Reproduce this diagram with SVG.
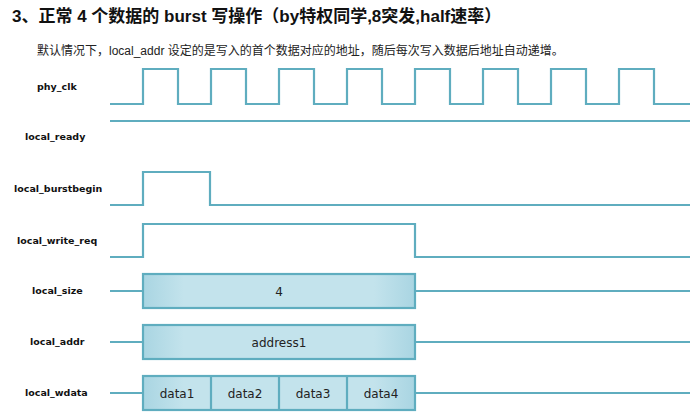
<svg xmlns="http://www.w3.org/2000/svg" width="698" height="418" viewBox="0 0 698 418">
<defs>
<linearGradient id="g" x1="0" y1="0" x2="1" y2="0">
<stop offset="0" stop-color="#a9d5e2"/><stop offset="0.15" stop-color="#c3e3ec"/><stop offset="0.85" stop-color="#c3e3ec"/><stop offset="1" stop-color="#a9d5e2"/>
</linearGradient>
</defs>
<style>
.w{fill:none;stroke:#5fadbf;stroke-width:2.2}
.b{fill:url(#g);stroke:#5fadbf;stroke-width:2.2}
.l{font-family:"DejaVu Sans",sans-serif;font-weight:bold;font-size:9.5px;fill:#111}
.v{font-family:"DejaVu Sans",sans-serif;font-size:12px;fill:#222;text-anchor:middle}
</style>
<rect width="698" height="418" fill="#fff"/>
<text x="12" y="22" font-family="'Liberation Sans','Noto Sans CJK SC',sans-serif" font-weight="bold" font-size="17" fill="#111">3、正常 4 个数据的 burst 写操作（by特权同学,8突发,half速率）</text>
<text x="37" y="55" font-family="'Liberation Sans','Noto Sans CJK SC',sans-serif" font-size="12" fill="#222">默认情况下，local_addr 设定的是写入的首个数据对应的地址，随后每次写入数据后地址自动递增。</text>
<g id="labels">
<text class="l" x="37" y="90">phy_clk</text>
<text class="l" x="25" y="140">local_ready</text>
<text class="l" x="14" y="192">local_burstbegin</text>
<text class="l" x="17" y="244">local_write_req</text>
<text class="l" x="32" y="294">local_size</text>
<text class="l" x="30" y="345">local_addr</text>
<text class="l" x="25" y="396">local_wdata</text>
</g>
<g id="phy_clk"><path class="w" d="M110 104H143V69H178V104H211V69H246V104H279V69H314V104H347V69H382V104H415V69H450V104H483V69H518V104H551V69H586V104H619V69H654V104H690"/></g>
<g id="local_ready"><path class="w" d="M110 121H690"/></g>
<g id="local_burstbegin"><path class="w" d="M110 205H143V172H210V205H690"/></g>
<g id="local_write_req"><path class="w" d="M110 257H143V224H415V257H690"/></g>
<g id="local_size"><path class="w" d="M110 291H143M415 291H690"/><rect class="b" x="143" y="274" width="272" height="34"/><text class="v" x="279" y="296">4</text></g>
<g id="local_addr"><path class="w" d="M110 342H143M415 342H690"/><rect class="b" x="143" y="325" width="272" height="34"/><text class="v" x="279" y="347">address1</text></g>
<g id="local_wdata"><path class="w" d="M110 393H143M415 393H690"/><rect class="b" x="143" y="376" width="272" height="34"/><path class="w" d="M211 376V410M279 376V410M347 376V410"/>
<text class="v" x="177" y="398">data1</text><text class="v" x="245" y="398">data2</text><text class="v" x="313" y="398">data3</text><text class="v" x="381" y="398">data4</text></g>
</svg>
